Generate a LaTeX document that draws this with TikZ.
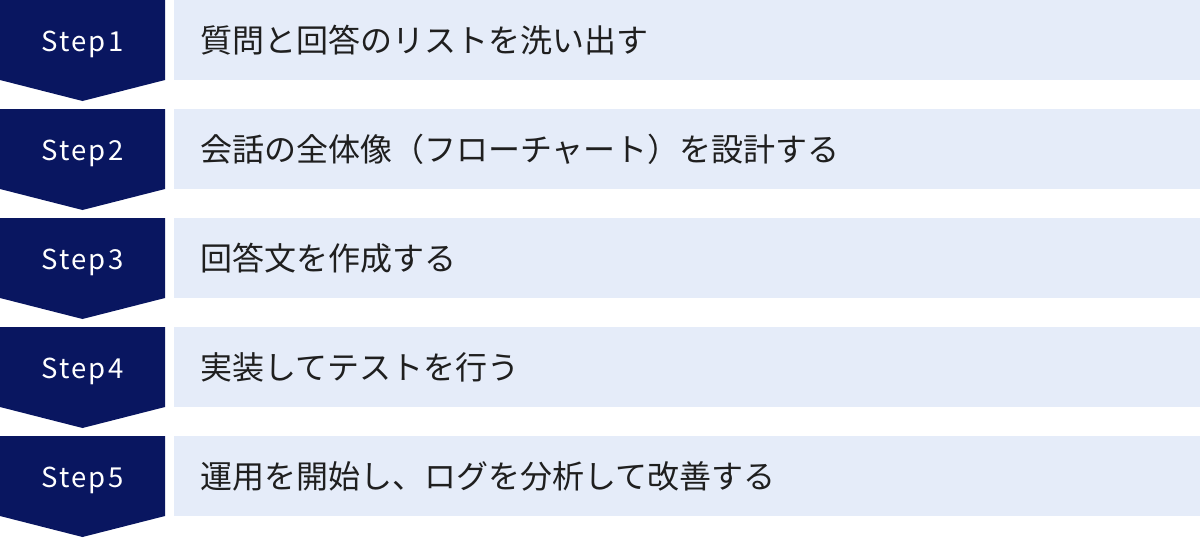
\documentclass[tikz,border=0pt]{standalone}
\usepackage{fontspec}
\newfontfamily\jpfont{Noto Sans CJK JP}
\newfontfamily\stepfont[LetterSpace=8]{Noto Sans CJK JP}
\definecolor{navy}{RGB}{9,22,96}
\definecolor{lightbox}{RGB}{229,236,249}
\begin{document}
\begin{tikzpicture}[x=1pt,y=-1pt,
  chev/.style={fill=navy,draw=none},
  bar/.style={fill=lightbox,draw=none},
  steplbl/.style={text=white,font=\stepfont\fontsize{27.5}{32}\selectfont,inner sep=0pt,anchor=base},
  desc/.style={text=black!88,font=\jpfont\fontsize{32}{38}\selectfont,inner sep=0pt,anchor=west}]
\useasboundingbox (0,0) rectangle (1200,538);
\foreach \i/\t in {1/質問と回答のリストを洗い出す,2/会話の全体像（フローチャート）を設計する,3/回答文を作成する,4/実装してテストを行う,5/運用を開始し、ログを分析して改善する}{
  \pgfmathsetmacro{\y}{(\i-1)*109}
  \fill[chev] (0,\y) -- (165,\y) -- (165,\y+80) -- (82.5,\y+101) -- (0,\y+80) -- cycle;
  \fill[bar] (174,\y) rectangle (1200,\y+80);
  \node[steplbl] (s\i) at (82.5,\y+51.5) {Step\i};
  \node[desc] (d\i) at (200,\y+40) {\t};
}
\end{tikzpicture}
\end{document}
